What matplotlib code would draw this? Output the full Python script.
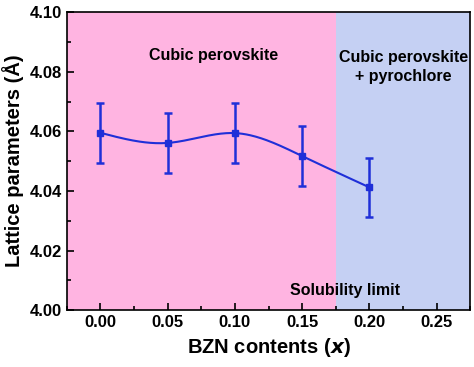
import numpy as np
import matplotlib
matplotlib.use("Agg")
import matplotlib.pyplot as plt
from matplotlib.ticker import MultipleLocator

plt.rcParams['font.family'] = ['Liberation Sans', 'DejaVu Sans']
plt.rcParams['font.weight'] = 'bold'

bzn = [0.00, 0.05, 0.10, 0.15, 0.20]
lattice = [4.0595, 4.0561, 4.0594, 4.0517, 4.0412]
err = [0.010, 0.010, 0.010, 0.010, 0.010]
limit = 0.175


def natural_spline(x, y, n=200):
    x = np.asarray(x, float)
    y = np.asarray(y, float)
    k = len(x)
    h = np.diff(x)
    A = np.zeros((k, k))
    b = np.zeros(k)
    A[0, 0] = A[-1, -1] = 1
    for i in range(1, k - 1):
        A[i, i - 1] = h[i - 1]
        A[i, i] = 2 * (h[i - 1] + h[i])
        A[i, i + 1] = h[i]
        b[i] = 6 * ((y[i + 1] - y[i]) / h[i] - (y[i] - y[i - 1]) / h[i - 1])
    M = np.linalg.solve(A, b)
    xs = np.linspace(x[0], x[-1], n)
    idx = np.clip(np.searchsorted(x, xs) - 1, 0, k - 2)
    x0, x1 = x[idx], x[idx + 1]
    hh = x1 - x0
    ys = (M[idx] * (x1 - xs) ** 3 / (6 * hh) + M[idx + 1] * (xs - x0) ** 3 / (6 * hh)
          + (y[idx] / hh - M[idx] * hh / 6) * (x1 - xs)
          + (y[idx + 1] / hh - M[idx + 1] * hh / 6) * (xs - x0))
    return xs, ys


fig = plt.figure(figsize=(4.74, 3.67), dpi=100)
ax = fig.add_axes([0.141, 0.155, 0.851, 0.812])

ax.set_xlim(-0.025, 0.275)
ax.set_ylim(4.00, 4.10)
ax.axvspan(-0.025, limit, color='#ffb4e1', lw=0)
ax.axvspan(limit, 0.275, color='#c5d0f3', lw=0)

xs, ys = natural_spline(bzn, lattice)
ax.plot(xs, ys, color='#1f2fd8', lw=1.5)
ax.errorbar(bzn, lattice, yerr=err, fmt='s', color='#1f2fd8', ms=4.5,
            elinewidth=1.8, capsize=3, capthick=1.8)

ax.text(0.084, 4.0855, 'Cubic perovskite', ha='center', va='center', fontsize=11.5)
ax.text(0.2255, 4.0815, 'Cubic perovskite\n+ pyrochlore', ha='center', va='center',
        fontsize=11.5, linespacing=1.3)
ax.text(0.182, 4.0065, 'Solubility limit', ha='center', va='center', fontsize=11.5)

ax.set_xticks([0.00, 0.05, 0.10, 0.15, 0.20, 0.25])
ax.set_yticks([4.00, 4.02, 4.04, 4.06, 4.08, 4.10])
ax.xaxis.set_minor_locator(MultipleLocator(0.025))
ax.yaxis.set_minor_locator(MultipleLocator(0.01))
ax.tick_params(which='both', direction='in', labelsize=12, width=1.2)
ax.tick_params(which='major', length=5)
ax.tick_params(which='minor', length=3)
ax.set_xticklabels([f"{v:.2f}" for v in ax.get_xticks()])
ax.set_yticklabels([f"{v:.2f}" for v in ax.get_yticks()])
for s in ax.spines.values():
    s.set_linewidth(1.2)

ax.set_xlabel(r'BZN contents ($\boldsymbol{x}$)', fontsize=14.5, fontweight='bold')
ax.set_ylabel('Lattice parameters (Å)', fontsize=14.5, fontweight='bold')

fig.savefig('out.png', dpi=100)
